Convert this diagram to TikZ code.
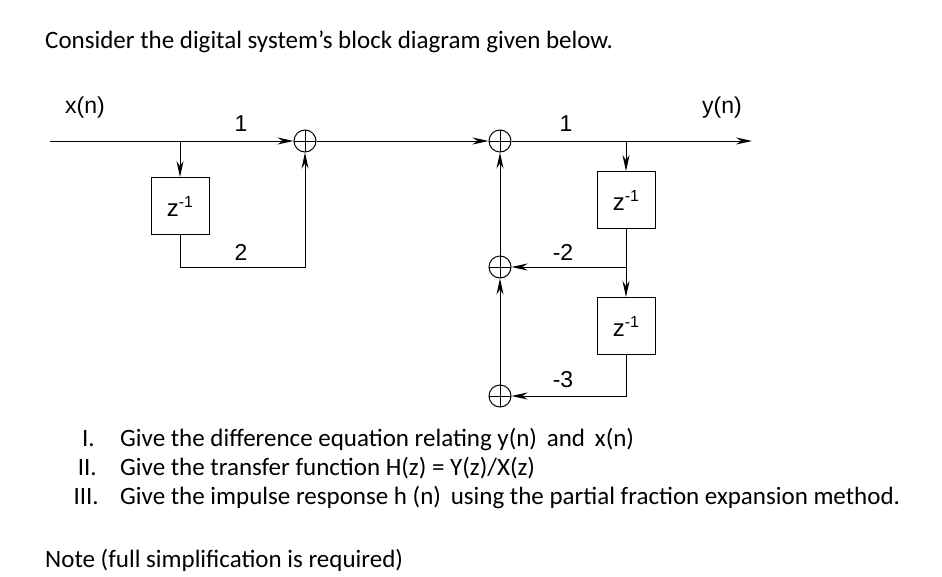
\documentclass[tikz,border=0pt]{standalone}
\usepackage{fontspec}
\setmainfont{Carlito}
\newfontfamily\arl{Liberation Sans}
\usetikzlibrary{arrows.meta}
\begin{document}
\begin{tikzpicture}[x=1pt,y=-1pt,
  ln/.style={line width=1pt},
  ar/.style={ln,-{Stealth[length=16pt,width=7pt]}},
  sum/.style={circle,draw,line width=1pt,minimum size=22pt,inner sep=0pt,
     path picture={\draw[line width=1pt] (path picture bounding box.north)--(path picture bounding box.south) (path picture bounding box.west)--(path picture bounding box.east);}},
  dl/.style={draw,line width=1pt,minimum width=58pt,minimum height=57pt,inner sep=0pt,font=\arl\fontsize{24}{24}\selectfont},
  lb/.style={font=\arl\fontsize{23}{23}\selectfont,inner sep=0pt},
  tx/.style={font=\fontsize{25}{25}\selectfont,anchor=base west,inner sep=0pt}]
\useasboundingbox (0,0) rectangle (942,576);
\node[tx] (title) at (45,48) {Consider the digital system’s block diagram given below.};
\node[lb] (xn) at (85,108) {x(n)};
\node[lb] (yn) at (722,108) {y(n)};
\coordinate (in) at (50,141);
\node[sum] (s1) at (305,141) {};
\node[sum] (s2) at (500,141) {};
\node[sum] (s3) at (500,267) {};
\node[sum] (s4) at (500,396) {};
\coordinate (out) at (752,141);
\node[dl] (d1) at (180,206) {z\raisebox{9pt}{\fontsize{16}{16}\selectfont-1}};
\node[dl] (d2) at (626,200) {z\raisebox{9pt}{\fontsize{16}{16}\selectfont-1}};
\node[dl] (d3) at (626,326) {z\raisebox{9pt}{\fontsize{16}{16}\selectfont-1}};
\coordinate (b1) at (180,141);
\coordinate (b2) at (626,141);
\coordinate (b3) at (626,267);
\draw[ar] (in) -- (s1.west);
\draw[ar] (b1) -- (d1.north);
\draw[ar] (d1.south) |- (305,267) -- (s1.south);
\draw[ar] (s1.east) -- (s2.west);
\draw[ar] (s2.east) -- (out);
\draw[ar] (b2) -- (d2.north);
\draw[ar] (d2.south) -- (d3.north);
\draw[ar] (b3) -- (s3.east);
\draw[ar] (d3.south) |- (s4.east);
\draw[ar] (s4.north) -- (s3.south);
\draw[ar] (s3.north) -- (s2.south);
\node[lb] (l1) at (241,124) {1};
\node[lb] (l2) at (241,252) {2};
\node[lb] (l3) at (566,124) {1};
\node[lb] (l4) at (563,252) {-2};
\node[lb] (l5) at (563,380) {-3};
\node[tx,anchor=base east] (n1) at (95,446) {I.};
\node[tx,anchor=base east] (n2) at (97,475) {II.};
\node[tx,anchor=base east] (n3) at (99,504) {III.};
\node[tx] (t1) at (120,446) {Give the difference equation relating y(n)\, and\, x(n)};
\node[tx] (t2) at (120,475) {Give the transfer function H(z) = Y(z)/X(z)};
\node[tx] (t3) at (120,504) {Give the impulse response h (n)\, using the partial fraction expansion method.};
\node[tx] (note) at (45,567) {Note (full simplification is required)};
\end{tikzpicture}
\end{document}
